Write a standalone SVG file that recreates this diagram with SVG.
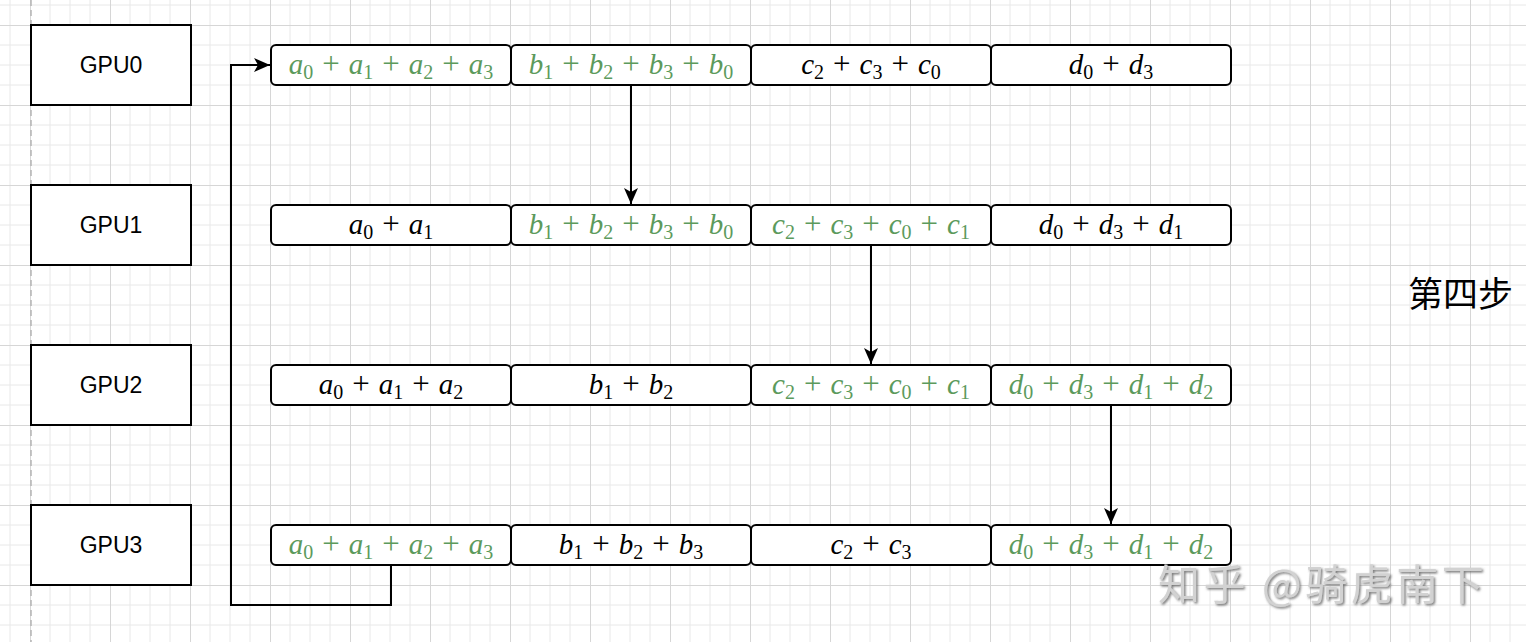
<svg xmlns="http://www.w3.org/2000/svg" width="1526" height="642" viewBox="0 0 1526 642">
<style>
.cell{fill:#fff;stroke:#000;stroke-width:2}
.gpu{fill:#fff;stroke:#000;stroke-width:2}
.gl{font-family:"Liberation Sans",Arial,sans-serif;font-size:23px;text-anchor:middle;fill:#000}
.m{font-family:"Liberation Serif","Times New Roman",serif;font-size:29px;text-anchor:middle;fill:#000}
.v{font-style:italic}
.s{font-size:20px}
.p{font-size:31px}
.g{fill:#5c9a5c}
.conn{fill:none;stroke:#000;stroke-width:2}
</style>
<defs>
<pattern id="grid" x="30" y="25" width="80" height="80" patternUnits="userSpaceOnUse">
<path d="M20,0V80M40,0V80M60,0V80M0,20H80M0,40H80M0,60H80" stroke="#e8e8e8" stroke-width="1" fill="none"/>
<path d="M0.5,0V80M0,0.5H80" stroke="#d6d6d6" stroke-width="1" fill="none"/>
</pattern>
<marker id="arr" markerUnits="userSpaceOnUse" markerWidth="17" markerHeight="14" refX="16" refY="7" orient="auto">
<path d="M0,0 L16,7 L0,14 L4,7 Z" fill="#000"/>
</marker>
<filter id="sh" x="-5%" y="-20%" width="110%" height="140%">
<feDropShadow dx="1.5" dy="1.5" stdDeviation="0.8" flood-color="#6a6a6a" flood-opacity="0.9"/>
</filter>
</defs>
<rect width="1526" height="642" fill="#fff"/>
<rect width="1526" height="642" fill="url(#grid)"/>
<line x1="31" y1="0" x2="31" y2="642" stroke="#b5b5b5" stroke-width="1.5" stroke-dasharray="6,4"/>

<g id="gpu0"><rect class="gpu" x="31" y="25" width="160" height="80"/><text class="gl" x="111" y="73">GPU0</text></g>
<g id="gpu1"><rect class="gpu" x="31" y="185" width="160" height="80"/><text class="gl" x="111" y="233">GPU1</text></g>
<g id="gpu2"><rect class="gpu" x="31" y="345" width="160" height="80"/><text class="gl" x="111" y="393">GPU2</text></g>
<g id="gpu3"><rect class="gpu" x="31" y="505" width="160" height="80"/><text class="gl" x="111" y="553">GPU3</text></g>

<g id="connectors">
<path class="conn" d="M631,85 V204" marker-end="url(#arr)"/>
<path class="conn" d="M871,245 V364" marker-end="url(#arr)"/>
<path class="conn" d="M1111,405 V524" marker-end="url(#arr)"/>
<path class="conn" d="M391,565 V605 H231 V65 H270" marker-end="url(#arr)"/>
</g>

<g id="row0">
<rect class="cell" x="271" y="45" width="240" height="40" rx="5"/>
<rect class="cell" x="511" y="45" width="240" height="40" rx="5"/>
<rect class="cell" x="751" y="45" width="240" height="40" rx="5"/>
<rect class="cell" x="991" y="45" width="240" height="40" rx="5"/>
<text class="m g" x="391" y="74"><tspan class="v">a</tspan><tspan class="s" dy="5">0</tspan><tspan class="p" dy="-5" dx="9">+</tspan><tspan class="v" dx="9">a</tspan><tspan class="s" dy="5">1</tspan><tspan class="p" dy="-5" dx="9">+</tspan><tspan class="v" dx="9">a</tspan><tspan class="s" dy="5">2</tspan><tspan class="p" dy="-5" dx="9">+</tspan><tspan class="v" dx="9">a</tspan><tspan class="s" dy="5">3</tspan></text>
<text class="m g" x="631" y="74"><tspan class="v">b</tspan><tspan class="s" dy="5">1</tspan><tspan class="p" dy="-5" dx="9">+</tspan><tspan class="v" dx="9">b</tspan><tspan class="s" dy="5">2</tspan><tspan class="p" dy="-5" dx="9">+</tspan><tspan class="v" dx="9">b</tspan><tspan class="s" dy="5">3</tspan><tspan class="p" dy="-5" dx="9">+</tspan><tspan class="v" dx="9">b</tspan><tspan class="s" dy="5">0</tspan></text>
<text class="m" x="871" y="74"><tspan class="v">c</tspan><tspan class="s" dy="5">2</tspan><tspan class="p" dy="-5" dx="9">+</tspan><tspan class="v" dx="9">c</tspan><tspan class="s" dy="5">3</tspan><tspan class="p" dy="-5" dx="9">+</tspan><tspan class="v" dx="9">c</tspan><tspan class="s" dy="5">0</tspan></text>
<text class="m" x="1111" y="74"><tspan class="v">d</tspan><tspan class="s" dy="5">0</tspan><tspan class="p" dy="-5" dx="9">+</tspan><tspan class="v" dx="9">d</tspan><tspan class="s" dy="5">3</tspan></text>
</g>

<g id="row1">
<rect class="cell" x="271" y="205" width="240" height="40" rx="5"/>
<rect class="cell" x="511" y="205" width="240" height="40" rx="5"/>
<rect class="cell" x="751" y="205" width="240" height="40" rx="5"/>
<rect class="cell" x="991" y="205" width="240" height="40" rx="5"/>
<text class="m" x="391" y="234"><tspan class="v">a</tspan><tspan class="s" dy="5">0</tspan><tspan class="p" dy="-5" dx="9">+</tspan><tspan class="v" dx="9">a</tspan><tspan class="s" dy="5">1</tspan></text>
<text class="m g" x="631" y="234"><tspan class="v">b</tspan><tspan class="s" dy="5">1</tspan><tspan class="p" dy="-5" dx="9">+</tspan><tspan class="v" dx="9">b</tspan><tspan class="s" dy="5">2</tspan><tspan class="p" dy="-5" dx="9">+</tspan><tspan class="v" dx="9">b</tspan><tspan class="s" dy="5">3</tspan><tspan class="p" dy="-5" dx="9">+</tspan><tspan class="v" dx="9">b</tspan><tspan class="s" dy="5">0</tspan></text>
<text class="m g" x="871" y="234"><tspan class="v">c</tspan><tspan class="s" dy="5">2</tspan><tspan class="p" dy="-5" dx="9">+</tspan><tspan class="v" dx="9">c</tspan><tspan class="s" dy="5">3</tspan><tspan class="p" dy="-5" dx="9">+</tspan><tspan class="v" dx="9">c</tspan><tspan class="s" dy="5">0</tspan><tspan class="p" dy="-5" dx="9">+</tspan><tspan class="v" dx="9">c</tspan><tspan class="s" dy="5">1</tspan></text>
<text class="m" x="1111" y="234"><tspan class="v">d</tspan><tspan class="s" dy="5">0</tspan><tspan class="p" dy="-5" dx="9">+</tspan><tspan class="v" dx="9">d</tspan><tspan class="s" dy="5">3</tspan><tspan class="p" dy="-5" dx="9">+</tspan><tspan class="v" dx="9">d</tspan><tspan class="s" dy="5">1</tspan></text>
</g>

<g id="row2">
<rect class="cell" x="271" y="365" width="240" height="40" rx="5"/>
<rect class="cell" x="511" y="365" width="240" height="40" rx="5"/>
<rect class="cell" x="751" y="365" width="240" height="40" rx="5"/>
<rect class="cell" x="991" y="365" width="240" height="40" rx="5"/>
<text class="m" x="391" y="394"><tspan class="v">a</tspan><tspan class="s" dy="5">0</tspan><tspan class="p" dy="-5" dx="9">+</tspan><tspan class="v" dx="9">a</tspan><tspan class="s" dy="5">1</tspan><tspan class="p" dy="-5" dx="9">+</tspan><tspan class="v" dx="9">a</tspan><tspan class="s" dy="5">2</tspan></text>
<text class="m" x="631" y="394"><tspan class="v">b</tspan><tspan class="s" dy="5">1</tspan><tspan class="p" dy="-5" dx="9">+</tspan><tspan class="v" dx="9">b</tspan><tspan class="s" dy="5">2</tspan></text>
<text class="m g" x="871" y="394"><tspan class="v">c</tspan><tspan class="s" dy="5">2</tspan><tspan class="p" dy="-5" dx="9">+</tspan><tspan class="v" dx="9">c</tspan><tspan class="s" dy="5">3</tspan><tspan class="p" dy="-5" dx="9">+</tspan><tspan class="v" dx="9">c</tspan><tspan class="s" dy="5">0</tspan><tspan class="p" dy="-5" dx="9">+</tspan><tspan class="v" dx="9">c</tspan><tspan class="s" dy="5">1</tspan></text>
<text class="m g" x="1111" y="394"><tspan class="v">d</tspan><tspan class="s" dy="5">0</tspan><tspan class="p" dy="-5" dx="9">+</tspan><tspan class="v" dx="9">d</tspan><tspan class="s" dy="5">3</tspan><tspan class="p" dy="-5" dx="9">+</tspan><tspan class="v" dx="9">d</tspan><tspan class="s" dy="5">1</tspan><tspan class="p" dy="-5" dx="9">+</tspan><tspan class="v" dx="9">d</tspan><tspan class="s" dy="5">2</tspan></text>
</g>

<g id="row3">
<rect class="cell" x="271" y="525" width="240" height="40" rx="5"/>
<rect class="cell" x="511" y="525" width="240" height="40" rx="5"/>
<rect class="cell" x="751" y="525" width="240" height="40" rx="5"/>
<rect class="cell" x="991" y="525" width="240" height="40" rx="5"/>
<text class="m g" x="391" y="554"><tspan class="v">a</tspan><tspan class="s" dy="5">0</tspan><tspan class="p" dy="-5" dx="9">+</tspan><tspan class="v" dx="9">a</tspan><tspan class="s" dy="5">1</tspan><tspan class="p" dy="-5" dx="9">+</tspan><tspan class="v" dx="9">a</tspan><tspan class="s" dy="5">2</tspan><tspan class="p" dy="-5" dx="9">+</tspan><tspan class="v" dx="9">a</tspan><tspan class="s" dy="5">3</tspan></text>
<text class="m" x="631" y="554"><tspan class="v">b</tspan><tspan class="s" dy="5">1</tspan><tspan class="p" dy="-5" dx="9">+</tspan><tspan class="v" dx="9">b</tspan><tspan class="s" dy="5">2</tspan><tspan class="p" dy="-5" dx="9">+</tspan><tspan class="v" dx="9">b</tspan><tspan class="s" dy="5">3</tspan></text>
<text class="m" x="871" y="554"><tspan class="v">c</tspan><tspan class="s" dy="5">2</tspan><tspan class="p" dy="-5" dx="9">+</tspan><tspan class="v" dx="9">c</tspan><tspan class="s" dy="5">3</tspan></text>
<text class="m g" x="1111" y="554"><tspan class="v">d</tspan><tspan class="s" dy="5">0</tspan><tspan class="p" dy="-5" dx="9">+</tspan><tspan class="v" dx="9">d</tspan><tspan class="s" dy="5">3</tspan><tspan class="p" dy="-5" dx="9">+</tspan><tspan class="v" dx="9">d</tspan><tspan class="s" dy="5">1</tspan><tspan class="p" dy="-5" dx="9">+</tspan><tspan class="v" dx="9">d</tspan><tspan class="s" dy="5">2</tspan></text>
</g>

<g id="title"><text x="1408" y="307" font-family="'Noto Sans CJK SC',sans-serif" font-size="35" fill="#000">第四步</text></g>
<g id="watermark"><text x="1158" y="600" font-family="'Noto Sans CJK SC',sans-serif" font-size="42" letter-spacing="3.5" fill="#d2d2d2" filter="url(#sh)">知乎 @骑虎南下</text></g>
</svg>
